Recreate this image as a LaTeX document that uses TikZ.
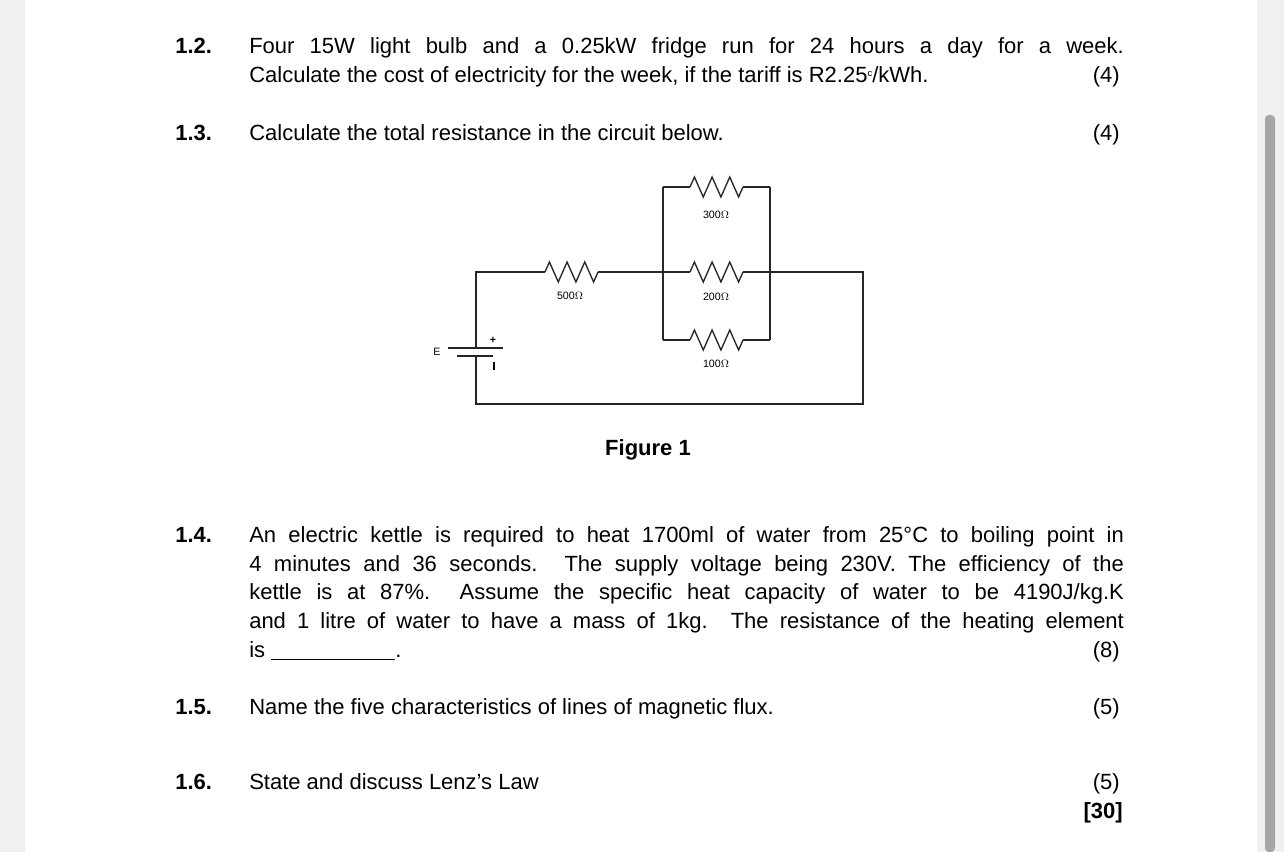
\documentclass[tikz,border=0pt]{standalone}
\usepackage{fontspec}
\setmainfont{Liberation Sans}
\begin{document}
\begin{tikzpicture}[x=0.75pt,y=-0.75pt,
  txt/.style={anchor=base west,inner sep=0,font=\fontsize{16.5pt}{20pt}\selectfont},
  rtxt/.style={anchor=base east,inner sep=0,font=\fontsize{16.5pt}{20pt}\selectfont},
  lbl/.style={inner sep=0,font=\fontsize{8pt}{9pt}\selectfont},
  wire/.style={line width=1pt,black!85}]
\fill[gray!12] (0,0) rectangle (1284,852);
\fill[white] (25,0) rectangle (1257,852);
\fill[gray!70,rounded corners=3pt] (1265,115) rectangle (1275,852);
\useasboundingbox (0,0) rectangle (1284,852);
\newcommand{\mline}[1]{\makebox[656pt][s]{#1}}
% 1.2
\node[txt,font=\bfseries\fontsize{16.5pt}{20pt}\selectfont] (q12) at (175,54) {1.2.};
\node[txt] (t12a) at (249,54) {\mline{Four 15W light bulb and a 0.25kW fridge run for 24 hours a day for a week.}};
\node[txt] (t12b) at (249,83) {Calculate the cost of electricity for the week, if the tariff is R2.25\raisebox{0.6ex}{\scriptsize c}/kWh.};
\node[rtxt] (m12) at (1120,83) {(4)};
% 1.3
\node[txt,font=\bfseries\fontsize{16.5pt}{20pt}\selectfont] (q13) at (175,141) {1.3.};
\node[txt] (t13) at (249,141) {Calculate the total resistance in the circuit below.};
\node[rtxt] (m13) at (1120,141) {(4)};
% circuit
\newcommand{\res}[3]{% x1 x2 y
  \draw[wire] (#1,#3) -- ({#1+(#2-#1)/12},{#3-10}) -- ({#1+3*(#2-#1)/12},{#3+10}) -- ({#1+5*(#2-#1)/12},{#3-10}) -- ({#1+7*(#2-#1)/12},{#3+10}) -- ({#1+9*(#2-#1)/12},{#3-10}) -- ({#1+11*(#2-#1)/12},{#3+10}) -- (#2,#3);}
\draw[wire] (476,348) -- (476,272) -- (545,272);
\res{545}{598}{272}
\draw[wire] (598,272) -- (690,272);
\draw[wire] (663,187) -- (663,340);
\draw[wire] (770,187) -- (770,340);
\draw[wire] (663,187) -- (690,187); \res{690}{743}{187} \draw[wire] (743,187) -- (770,187);
\res{690}{743}{272} \draw[wire] (743,272) -- (863,272) -- (863,404) -- (476,404) -- (476,356);
\draw[wire] (663,340) -- (690,340); \res{690}{743}{340} \draw[wire] (743,340) -- (770,340);
\draw[wire] (448,348) -- (503,348);
\draw[wire] (457,356) -- (493,356);
\node[lbl] (l500) at (570,296) {500$\Omega$};
\node[lbl] (l300) at (716,215) {300$\Omega$};
\node[lbl] (l200) at (716,297) {200$\Omega$};
\node[lbl] (l100) at (716,364) {100$\Omega$};
\node[lbl] (lE) at (437,352) {E};
\node[lbl,font=\bfseries\fontsize{8pt}{9pt}\selectfont] (lp) at (493,340) {+};
\draw[line width=0.8pt] (494,362) -- (494,370);
\node[inner sep=0,font=\bfseries\fontsize{16.5pt}{20pt}\selectfont] (fig) at (648,450) {Figure 1};
% 1.4
\node[txt,font=\bfseries\fontsize{16.5pt}{20pt}\selectfont] (q14) at (175,542) {1.4.};
\node[txt] (a) at (249,542) {\mline{An electric kettle is required to heat 1700ml of water from 25°C to boiling point in}};
\node[txt] (b) at (249,571) {\mline{4 minutes and 36 seconds. The supply voltage being 230V. The efficiency of the}};
\node[txt] (c) at (249,599) {\mline{kettle is at 87\%.\ \ Assume the specific heat capacity of water to be 4190J/kg.K}};
\node[txt] (d) at (249,628) {\mline{and 1 litre of water to have a mass of 1kg. The resistance of the heating element}};
\node[txt] (e) at (249,657) {is \underline{\hspace{93pt}}.};
\node[rtxt] (m14) at (1120,657) {(8)};
% 1.5
\node[txt,font=\bfseries\fontsize{16.5pt}{20pt}\selectfont] (q15) at (175,714) {1.5.};
\node[txt] (t15) at (249,714) {Name the five characteristics of lines of magnetic flux.};
\node[rtxt] (m15) at (1120,714) {(5)};
% 1.6
\node[txt,font=\bfseries\fontsize{16.5pt}{20pt}\selectfont] (q16) at (175,789) {1.6.};
\node[txt] (t16) at (249,789) {State and discuss Lenz’s Law};
\node[rtxt] (m16) at (1120,789) {(5)};
\node[rtxt,font=\bfseries\fontsize{16.5pt}{20pt}\selectfont] (tot) at (1123,818) {[30]};
\end{tikzpicture}
\end{document}
